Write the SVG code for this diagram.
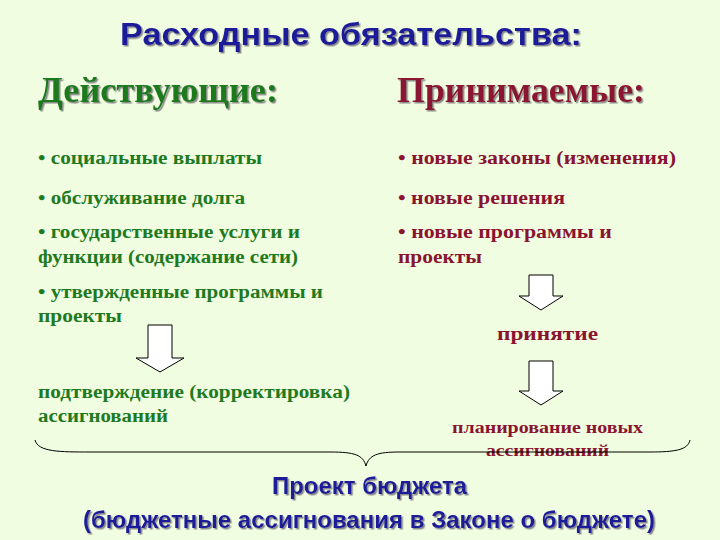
<svg xmlns="http://www.w3.org/2000/svg" width="720" height="540" viewBox="0 0 720 540">
<defs>
<filter id="sh" x="-5%" y="-5%" width="110%" height="120%"><feDropShadow dx="1.5" dy="1.5" stdDeviation="0.3" flood-color="#8a8a8a"/></filter>
</defs>
<style>
.t{font-family:"Liberation Sans",Arial,sans-serif;font-weight:bold;fill:#1a1a9a}
.s{font-family:"Liberation Serif","Times New Roman",serif;font-weight:bold}
.g{fill:#1f7a1f}.r{fill:#8a1430}
.b{font-size:18px}
.ar{fill:#fff;stroke:#000;stroke-width:1}
</style>
<rect width="720" height="540" fill="#f0fde0"/>
<g id="title"><text class="t" x="120" y="45" font-size="32" textLength="462" lengthAdjust="spacingAndGlyphs" filter="url(#sh)">Расходные обязательства:</text></g>
<g id="left-head"><text class="s g" x="38" y="102" font-size="36" textLength="240" lengthAdjust="spacingAndGlyphs" filter="url(#sh)">Действующие:</text></g>
<g id="right-head"><text class="s r" x="397" y="102" font-size="36" textLength="248" lengthAdjust="spacingAndGlyphs" filter="url(#sh)">Принимаемые:</text></g>
<g id="left-items" class="s g b">
<text x="38" y="164" textLength="224" lengthAdjust="spacingAndGlyphs">• социальные выплаты</text>
<text x="38" y="204" textLength="207" lengthAdjust="spacingAndGlyphs">• обслуживание долга</text>
<text x="38" y="238" textLength="262" lengthAdjust="spacingAndGlyphs">• государственные услуги и</text>
<text x="38" y="263" textLength="260" lengthAdjust="spacingAndGlyphs">функции (содержание сети)</text>
<text x="38" y="298" textLength="285" lengthAdjust="spacingAndGlyphs">• утвержденные программы и</text>
<text x="38" y="322" textLength="84" lengthAdjust="spacingAndGlyphs">проекты</text>
</g>
<g id="right-items" class="s r b">
<text x="398" y="164" textLength="278" lengthAdjust="spacingAndGlyphs">• новые законы (изменения)</text>
<text x="398" y="204" textLength="167" lengthAdjust="spacingAndGlyphs">• новые решения</text>
<text x="398" y="238" textLength="214" lengthAdjust="spacingAndGlyphs">• новые программы и</text>
<text x="398" y="263" textLength="84" lengthAdjust="spacingAndGlyphs">проекты</text>
<text x="497" y="340" textLength="101" lengthAdjust="spacingAndGlyphs">принятие</text>
</g>
<g id="left-result" class="s g b">
<text x="38" y="398" textLength="312" lengthAdjust="spacingAndGlyphs">подтверждение (корректировка)</text>
<text x="38" y="422" textLength="130" lengthAdjust="spacingAndGlyphs">ассигнований</text>
</g>
<g id="right-result" class="s r" font-size="16">
<text x="452" y="433" textLength="191" lengthAdjust="spacingAndGlyphs">планирование новых</text>
<text x="486" y="456" textLength="123" lengthAdjust="spacingAndGlyphs">ассигнований</text>
</g>
<g id="connectors">
<path class="ar" d="M148 325H172V358H184L160 372L136 358H148Z"/>
<path class="ar" d="M529 275H553V296H563L541 310L519 296H529Z"/>
<path class="ar" d="M529 361H553V391H563L541 405L519 391H529Z"/>
<path d="M35 440C38 452 60 452 90 452H330C355 452 363 455 366 466C369 455 377 452 400 452H650C675 452 688 450 690 440" fill="none" stroke="#000" stroke-width="1"/>
</g>
<g id="bottom" class="t" font-size="23" filter="url(#sh)">
<text x="272" y="494" textLength="195" lengthAdjust="spacingAndGlyphs">Проект бюджета</text>
<text x="83" y="528" textLength="572" lengthAdjust="spacingAndGlyphs">(бюджетные ассигнования в Законе о бюджете)</text>
</g>
</svg>
